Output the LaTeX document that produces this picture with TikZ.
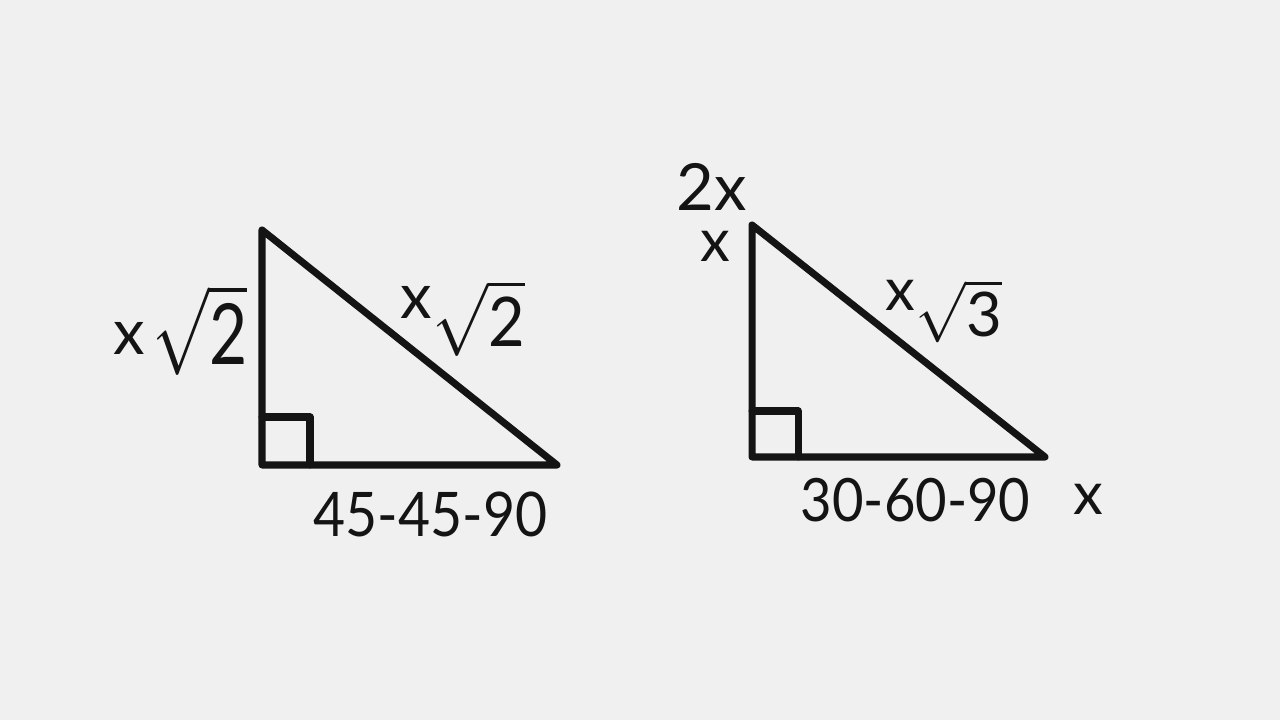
\documentclass[tikz,border=0pt]{standalone}
\usepackage{graphicx}
\usepackage{fontspec}
\setmainfont{Lato}
\definecolor{paper}{HTML}{F0F0F0}
\definecolor{ink}{HTML}{141414}
\newcommand{\fs}[1]{\fontsize{#1}{#1}\selectfont}
\newcommand{\narrow}[2]{\scalebox{#1}[1]{#2}}

\begin{document}
\begin{tikzpicture}[
    every node/.append style={text=ink, inner sep=0pt, anchor=base west},
    side/.style={draw=ink, line width=2pt, line join=round, line cap=round}]
    \fill[paper] (0,0) rectangle (12.8,7.2);

    % 45-45-90
    \coordinate (left_top) at (2.62,4.90);
    \coordinate (left_corner) at (2.62,2.55);
    \coordinate (left_end) at (5.57,2.55);
    \draw[side] (left_top) -- (left_corner) -- (left_end) -- cycle;
    \draw[side] (2.62,3.03) -- (3.10,3.03) -- (3.10,2.55);

    \node (left_leg) at (1.13,3.55) {\raisebox{3pt}{\fs{18}x}\hspace{2pt}\narrow{0.78}{\fs{24}$\sqrt{\mbox{2}}$}};
    \node (left_hyp) at (4.00,3.73) {\raisebox{8pt}{\fs{18}x}\hspace{0pt}\narrow{0.92}{\fs{19.5}$\sqrt{\mbox{2}}$}};
    \node (left_name) at (3.13,1.83) {\narrow{0.9}{\fs{17.5}45-45-90}};

    % 30-60-90
    \coordinate (right_top) at (7.52,4.95);
    \coordinate (right_corner) at (7.52,2.63);
    \coordinate (right_end) at (10.45,2.63);
    \draw[side] (right_top) -- (right_corner) -- (right_end) -- cycle;
    \draw[side] (7.52,3.09) -- (7.98,3.09) -- (7.98,2.63);

    \node (right_long) at (6.76,5.09) {\fs{18.5}2x};
    \node (right_short) at (7.00,4.58) {\fs{17}x};
    \node (right_hyp) at (8.85,3.83) {\raisebox{7.5pt}{\fs{17}x}\hspace{0pt}{\fs{17.5}$\sqrt{\mbox{3}}$}};
    \node (right_name) at (8.00,1.98) {\narrow{0.91}{\fs{17}30-60-90}};
    \node (right_base) at (10.73,2.05) {\fs{17}x};
\end{tikzpicture}
\end{document}
